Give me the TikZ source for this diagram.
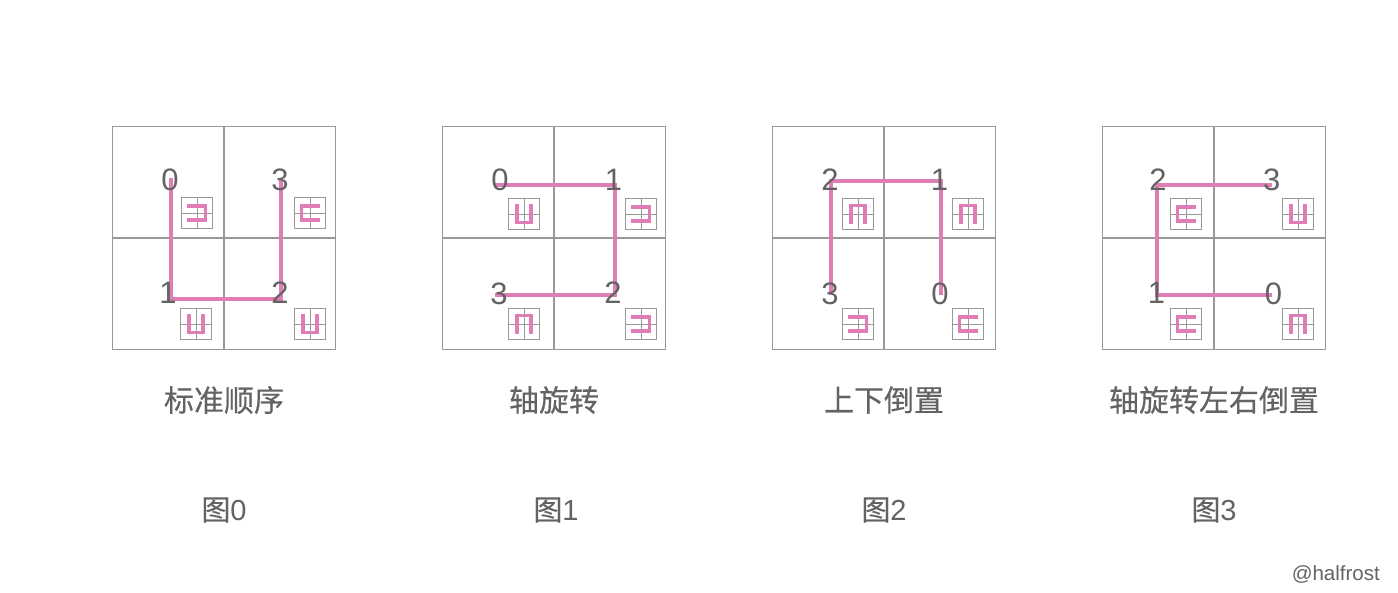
\documentclass[tikz,border=0pt]{standalone}
\usepackage{fontspec}
\setmainfont{Liberation Sans}
\newfontfamily\cjk[FakeBold=0.35]{Noto Sans CJK SC}
\definecolor{curvepink}{HTML}{E07DB6}
\definecolor{gridgray}{HTML}{999999}
\definecolor{textgray}{HTML}{636363}
\tikzset{
  cellgrid/.style={draw=gridgray, line width=0.9pt},
  cellstroke/.style={draw=curvepink, line width=3.6pt},
  cellbox/.pic={
    \draw[cellgrid] (-15.5,-15.5) rectangle (15.5,15.5);
    \draw[cellgrid] (-15.5,0) -- (15.5,0) (0,-15.5) -- (0,15.5);
  },
  cellu/.pic={
    \pic {cellbox};
    \draw[cellstroke] (-7.2,-10) -- (-7.2,8.5) -- (7.2,8.5) -- (7.2,-10);
  },
  celln/.pic={
    \pic {cellbox};
    \draw[cellstroke] (-7.2,10) -- (-7.2,-8.5) -- (7.2,-8.5) -- (7.2,10);
  },
  cellc/.pic={
    \pic {cellbox};
    \draw[cellstroke] (10,-7.2) -- (-8.5,-7.2) -- (-8.5,7.2) -- (10,7.2);
  },
  celld/.pic={
    \pic {cellbox};
    \draw[cellstroke] (-10,-7.2) -- (8.5,-7.2) -- (8.5,7.2) -- (-10,7.2);
  }
}
\begin{document}
\begin{tikzpicture}[
    x=1pt, y=-1pt,
    frame/.style={draw=gridgray, line width=1pt},
    divider/.style={draw=gridgray, line width=1.6pt},
    curve/.style={draw=curvepink, line width=4pt},
    digit/.style={inner sep=0pt, text=textgray, font=\fontsize{31}{31}\selectfont},
    caption/.style={inner sep=0pt, text=textgray, font=\cjk\fontsize{30}{30}\selectfont},
    figname/.style={inner sep=0pt, text=textgray, font=\cjk\fontsize{29}{29}\selectfont}
]
\useasboundingbox (0,0) rectangle (1398,593);

% panel frames
\foreach \px in {112.5,442.5,772.5,1102.5} {
  \draw[frame] (\px,126.5) rectangle ++(223,223);
  \draw[divider] (\px+111.5,126.5) -- ++(0,223);
  \draw[divider] (\px,238) -- ++(223,0);
}

% small cells
\pic at (197,213) {celld};
\pic at (310,213) {cellc};
\pic at (196,324) {cellu};
\pic at (310,324) {cellu};

\pic at (524,214) {cellu};
\pic at (641,214) {celld};
\pic at (524,324) {celln};
\pic at (641,324) {celld};

\pic at (858,214) {celln};
\pic at (968,214) {celln};
\pic at (858,324) {celld};
\pic at (968,324) {cellc};

\pic at (1186,214) {cellc};
\pic at (1298,214) {cellu};
\pic at (1186,324) {cellc};
\pic at (1298,324) {celln};

% curve corners
\coordinate (A0) at (170.7,178);
\coordinate (A1) at (170.7,298.7);
\coordinate (A2) at (281,298.7);
\coordinate (A3) at (281,180);

\coordinate (B0) at (495,184.7);
\coordinate (B1) at (614.7,184.7);
\coordinate (B2) at (614.7,295);
\coordinate (B3) at (495,295);

\coordinate (C0) at (941,295);
\coordinate (C1) at (941,180.7);
\coordinate (C2) at (830.7,180.7);
\coordinate (C3) at (830.7,295);

\coordinate (D0) at (1271.7,295);
\coordinate (D1) at (1157,295);
\coordinate (D2) at (1157,184.7);
\coordinate (D3) at (1271.7,184.7);

\draw[curve] (A0) -- (A1) -- (A2) -- (A3);
\draw[curve] (B0) -- (B1) -- (B2) -- (B3);
\draw[curve] (C0) -- (C1) -- (C2) -- (C3);
\draw[curve] (D0) -- (D1) -- (D2) -- (D3);

% digits
\node (Digit00) [digit] at (170,179.5) {0};
\node (Digit01) [digit] at (168,292.5) {1};
\node (Digit02) [digit] at (280,292.5) {2};
\node (Digit03) [digit] at (280,180) {3};

\node (Digit10) [digit] at (500,180) {0};
\node (Digit11) [digit] at (613.5,180) {1};
\node (Digit12) [digit] at (613,293) {2};
\node (Digit13) [digit] at (499,294) {3};

\node (Digit20) [digit] at (940,294) {0};
\node (Digit21) [digit] at (939.5,180) {1};
\node (Digit22) [digit] at (830,180) {2};
\node (Digit23) [digit] at (830,293.5) {3};

\node (Digit30) [digit] at (1273.5,293.5) {0};
\node (Digit31) [digit] at (1156.5,292.5) {1};
\node (Digit32) [digit] at (1158,179.5) {2};
\node (Digit33) [digit] at (1271.7,180) {3};

% captions
\node (Caption0) [caption] at (224,400) {标准顺序};
\node (Caption1) [caption] at (554,400) {轴旋转};
\node (Caption2) [caption] at (884,400) {上下倒置};
\node (Caption3) [caption] at (1214,400) {轴旋转左右倒置};

\node (Name0) [figname] at (224,510) {图{\rmfamily 0}};
\node (Name1) [figname] at (556,510) {图{\rmfamily 1}};
\node (Name2) [figname] at (884,510) {图{\rmfamily 2}};
\node (Name3) [figname] at (1214,510) {图{\rmfamily 3}};

\node (Mark) [inner sep=0pt, anchor=east, text=textgray, font=\fontsize{20.5}{20.5}\selectfont] at (1380,574) {@halfrost};
\end{tikzpicture}
\end{document}
